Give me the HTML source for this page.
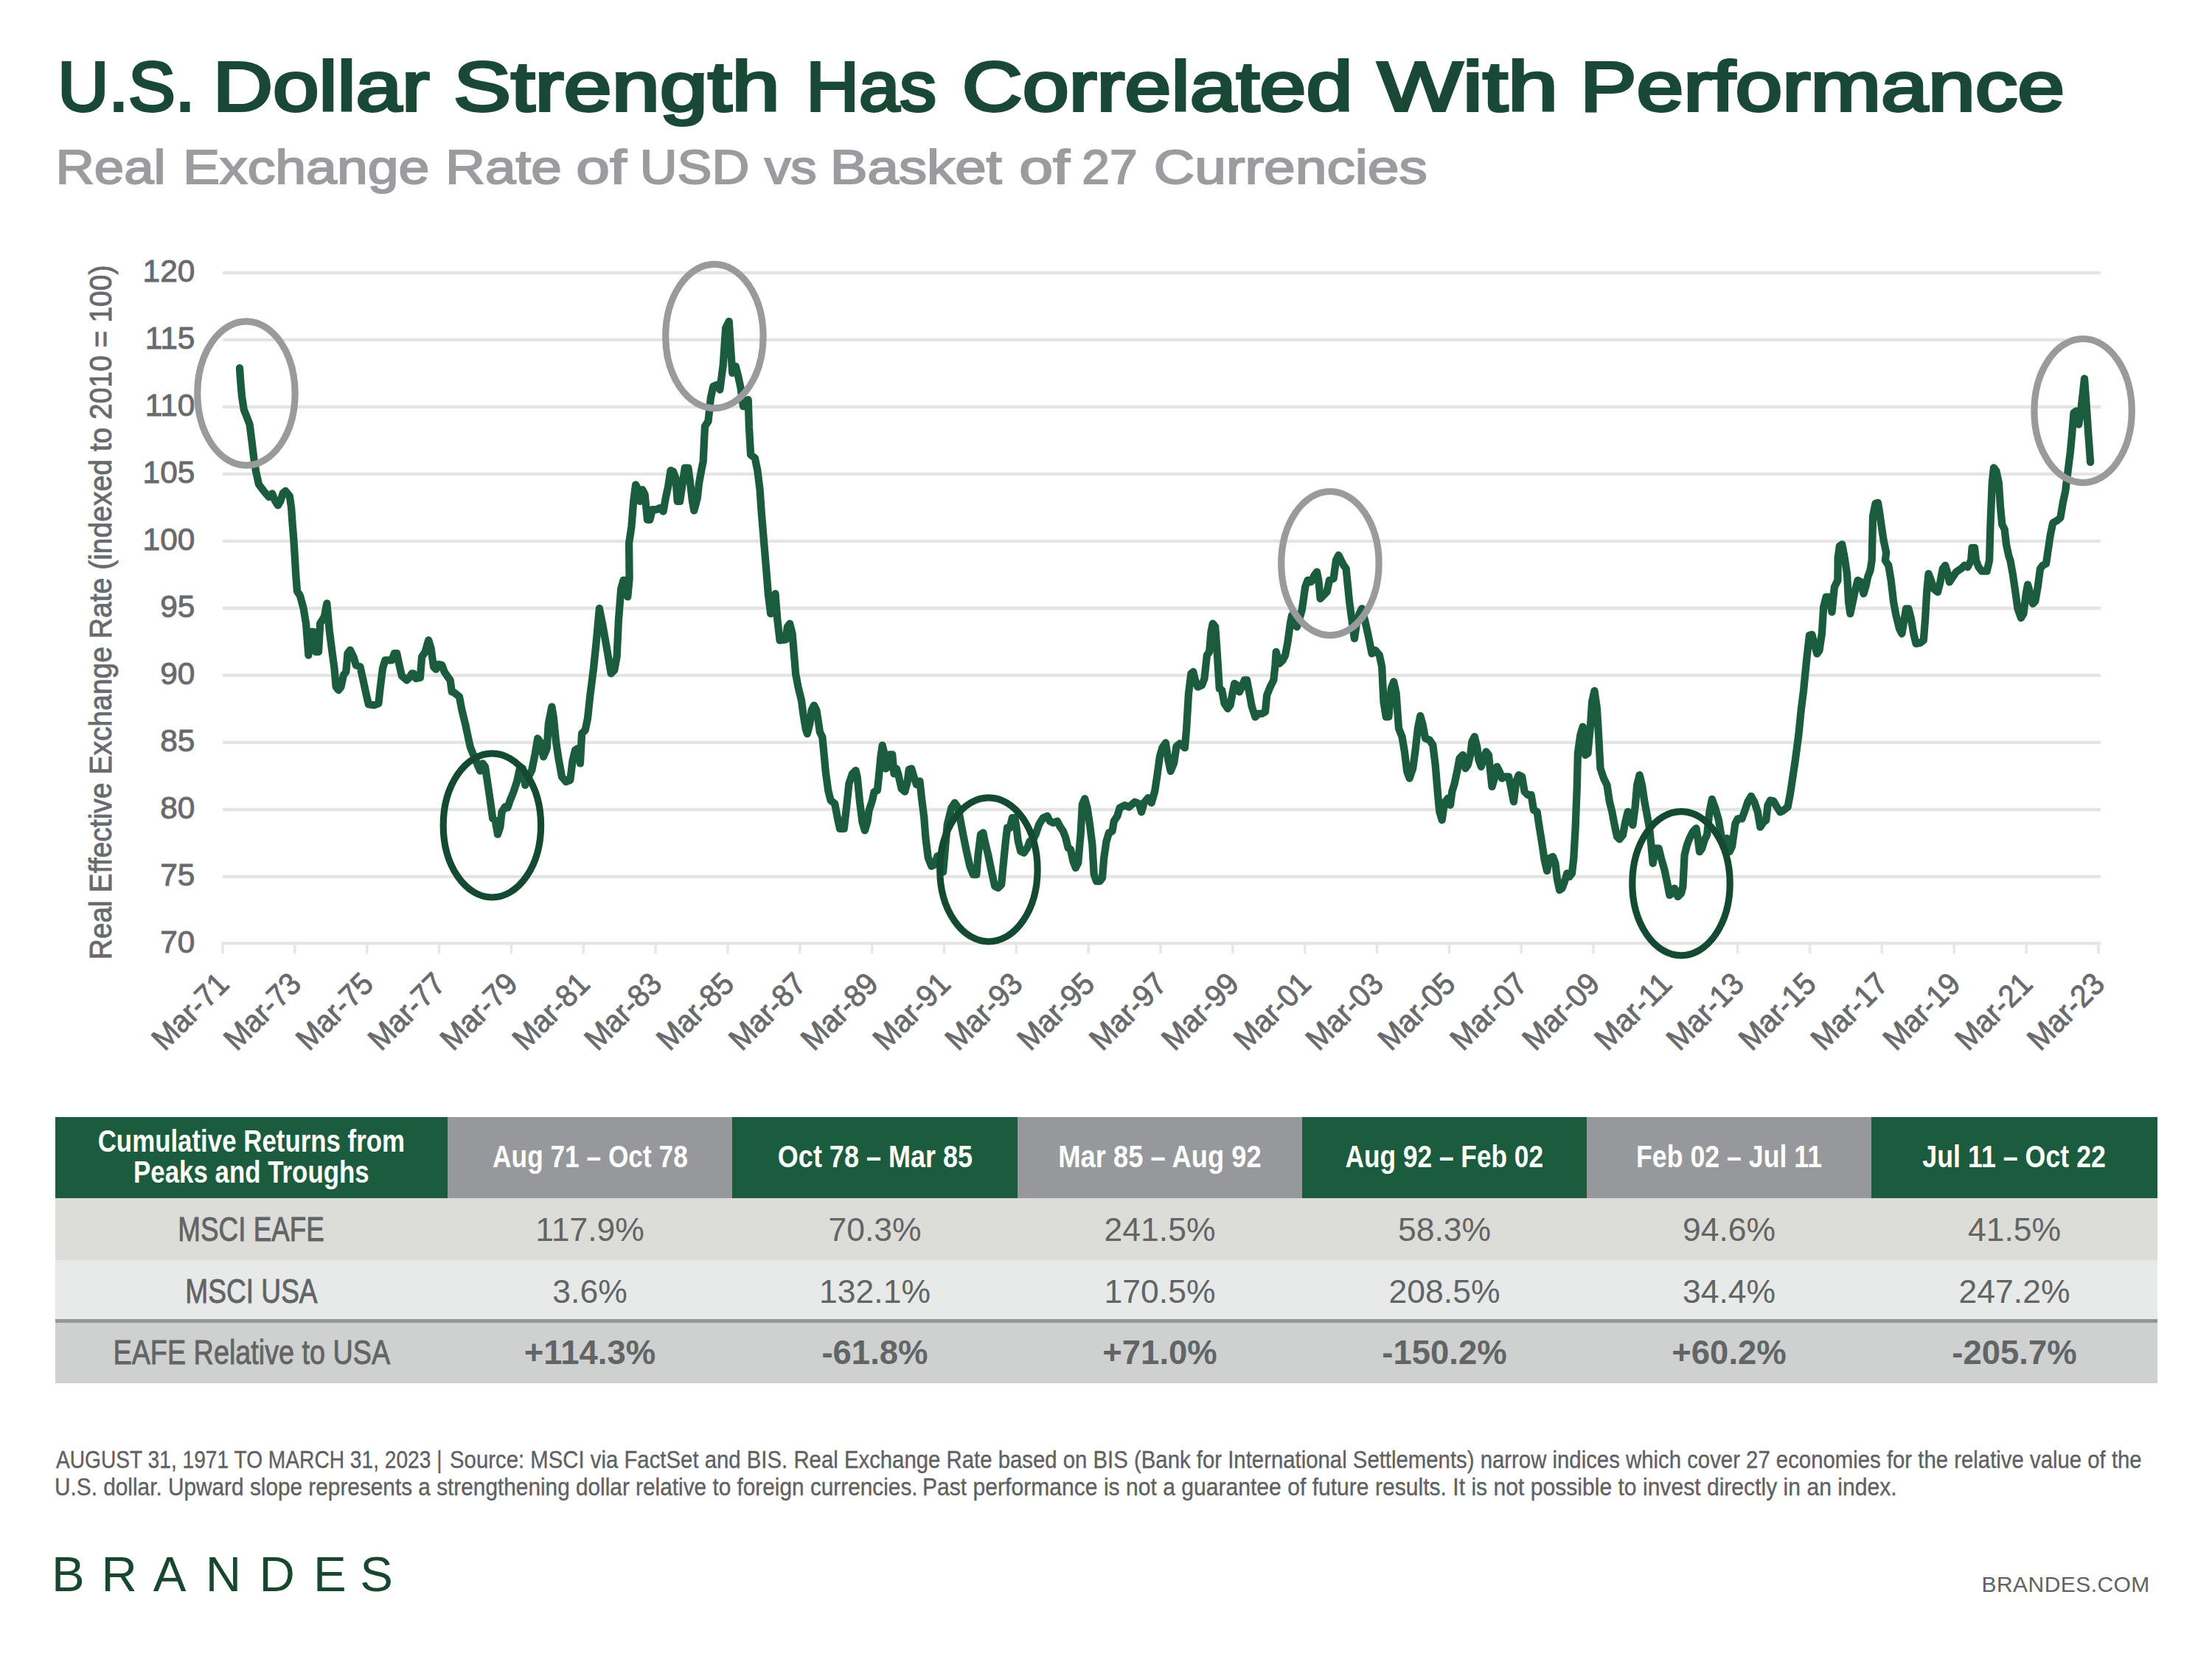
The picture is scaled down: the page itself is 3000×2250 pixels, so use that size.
<!DOCTYPE html>
<html lang="en"><head><meta charset="utf-8"><title>U.S. Dollar Strength Has Correlated With Performance</title>
<style>
html,body{margin:0;padding:0;background:#fff;}
body{width:3000px;height:2250px;position:relative;overflow:hidden;font-family:"Liberation Sans",sans-serif;}
.abs{position:absolute;white-space:nowrap;}
#head{left:0;top:0;}
#title text{font-family:"Liberation Sans",sans-serif;font-size:94.2px;fill:#194936;stroke:#194936;stroke-width:3.8px;}
#subtitle text{font-family:"Liberation Sans",sans-serif;font-size:65.4px;fill:#9b9c9f;stroke:#9b9c9f;stroke-width:2px;}
#chart{position:absolute;left:0;top:0;}
#chart text{font-family:"Liberation Sans",sans-serif;font-size:42.5px;fill:#696a6d;stroke:#696a6d;stroke-width:0.9px;}
table{position:absolute;left:75px;top:1515px;width:2851px;border-collapse:collapse;table-layout:fixed;}
th,td{padding:0;text-align:center;vertical-align:middle;overflow:hidden;}
th{height:107px;padding-bottom:3px;color:#fff;font-weight:bold;font-size:42.5px;}
th.g{background:#1c5c3e;} th.s{background:#96989b;}
td{font-size:44.5px;color:#636466;}
td .cn{font-size:45.5px;-webkit-text-stroke:0.9px #636466;}
tr.r1 td{height:82px;padding-top:2px;background:#dcddd9;}
tr.r2 td{height:74px;padding-top:6px;background:#e7eae9;}
tr.r3 td{height:82px;background:#ced1d0;border-top:5px solid #939798;}
tr.r3 td.b{font-weight:bold;font-size:45.5px;}
.cn{display:inline-block;transform:scaleX(.82);white-space:nowrap;}
.fn{left:75px;font-size:32.5px;line-height:37.1px;color:#5f6062;-webkit-text-stroke:0.35px #5f6062;transform-origin:0 0;}
#fn{top:1962px;left:76px;transform:scaleX(.866);}
#fn1b{top:1962px;left:609.5px;transform:scaleX(.9028);}
#fn2{top:1999.4px;left:74px;transform:scaleX(.9165);}
#fn2b{top:1999.4px;left:1251.3px;transform:scaleX(.926);}
#logo{left:0;top:2100px;}
#logo text{font-family:"Liberation Sans",sans-serif;font-size:67px;fill:#17472f;}
#site{left:2687.5px;top:2128.5px;font-size:30px;line-height:40px;color:#626262;letter-spacing:0.45px;}
</style></head><body>
<svg id="head" class="abs" width="3000" height="300" viewBox="0 0 3000 300"><g id="title"><text x="78.37" y="149.8" textLength="185.97" lengthAdjust="spacingAndGlyphs">U.S.</text><text x="288.76" y="149.8" textLength="293.75" lengthAdjust="spacingAndGlyphs">Dollar</text><text x="615.00" y="149.8" textLength="442.59" lengthAdjust="spacingAndGlyphs">Strength</text><text x="1093.23" y="149.8" textLength="176.80" lengthAdjust="spacingAndGlyphs">Has</text><text x="1304.79" y="149.8" textLength="529.72" lengthAdjust="spacingAndGlyphs">Correlated</text><text x="1868.24" y="149.8" textLength="244.83" lengthAdjust="spacingAndGlyphs">With</text><text x="2142.98" y="149.8" textLength="657.04" lengthAdjust="spacingAndGlyphs">Performance</text></g><g id="subtitle"><text x="75.46" y="249.2" textLength="149.20" lengthAdjust="spacingAndGlyphs">Real</text><text x="247.96" y="249.2" textLength="334.36" lengthAdjust="spacingAndGlyphs">Exchange</text><text x="604.03" y="249.2" textLength="157.62" lengthAdjust="spacingAndGlyphs">Rate</text><text x="781.23" y="249.2" textLength="68.52" lengthAdjust="spacingAndGlyphs">of</text><text x="867.75" y="249.2" textLength="148.38" lengthAdjust="spacingAndGlyphs">USD</text><text x="1036.98" y="249.2" textLength="70.68" lengthAdjust="spacingAndGlyphs">vs</text><text x="1125.70" y="249.2" textLength="233.12" lengthAdjust="spacingAndGlyphs">Basket</text><text x="1382.22" y="249.2" textLength="68.80" lengthAdjust="spacingAndGlyphs">of</text><text x="1467.37" y="249.2" textLength="75.06" lengthAdjust="spacingAndGlyphs">27</text><text x="1564.80" y="249.2" textLength="371.11" lengthAdjust="spacingAndGlyphs">Currencies</text></g></svg>
<svg id="chart" width="3000" height="1500" viewBox="0 0 3000 1500">
<g stroke="#e4e4e4" stroke-width="4.3" fill="none"><line x1="302" x2="2849" y1="1188.9" y2="1188.9"/><line x1="302" x2="2849" y1="1097.9" y2="1097.9"/><line x1="302" x2="2849" y1="1006.9" y2="1006.9"/><line x1="302" x2="2849" y1="915.9" y2="915.9"/><line x1="302" x2="2849" y1="824.9" y2="824.9"/><line x1="302" x2="2849" y1="733.9" y2="733.9"/><line x1="302" x2="2849" y1="642.9" y2="642.9"/><line x1="302" x2="2849" y1="551.9" y2="551.9"/><line x1="302" x2="2849" y1="460.9" y2="460.9"/><line x1="302" x2="2849" y1="369.9" y2="369.9"/><line x1="300.3" x2="2849" y1="1279.4" y2="1279.4"/></g>
<g stroke="#e7e7e7" stroke-width="3.6" fill="none"><line x1="302.1" x2="302.1" y1="1279" y2="1293.4"/><line x1="399.9" x2="399.9" y1="1279" y2="1293.4"/><line x1="497.8" x2="497.8" y1="1279" y2="1293.4"/><line x1="595.6" x2="595.6" y1="1279" y2="1293.4"/><line x1="693.5" x2="693.5" y1="1279" y2="1293.4"/><line x1="791.3" x2="791.3" y1="1279" y2="1293.4"/><line x1="889.1" x2="889.1" y1="1279" y2="1293.4"/><line x1="987.0" x2="987.0" y1="1279" y2="1293.4"/><line x1="1084.8" x2="1084.8" y1="1279" y2="1293.4"/><line x1="1182.7" x2="1182.7" y1="1279" y2="1293.4"/><line x1="1280.5" x2="1280.5" y1="1279" y2="1293.4"/><line x1="1378.3" x2="1378.3" y1="1279" y2="1293.4"/><line x1="1476.2" x2="1476.2" y1="1279" y2="1293.4"/><line x1="1574.0" x2="1574.0" y1="1279" y2="1293.4"/><line x1="1671.9" x2="1671.9" y1="1279" y2="1293.4"/><line x1="1769.7" x2="1769.7" y1="1279" y2="1293.4"/><line x1="1867.5" x2="1867.5" y1="1279" y2="1293.4"/><line x1="1965.4" x2="1965.4" y1="1279" y2="1293.4"/><line x1="2063.2" x2="2063.2" y1="1279" y2="1293.4"/><line x1="2161.1" x2="2161.1" y1="1279" y2="1293.4"/><line x1="2258.9" x2="2258.9" y1="1279" y2="1293.4"/><line x1="2356.7" x2="2356.7" y1="1279" y2="1293.4"/><line x1="2454.6" x2="2454.6" y1="1279" y2="1293.4"/><line x1="2552.4" x2="2552.4" y1="1279" y2="1293.4"/><line x1="2650.3" x2="2650.3" y1="1279" y2="1293.4"/><line x1="2748.1" x2="2748.1" y1="1279" y2="1293.4"/><line x1="2845.9" x2="2845.9" y1="1279" y2="1293.4"/></g>
<g><text x="264.5" y="1292.3" text-anchor="end">70</text><text x="264.5" y="1201.3" text-anchor="end">75</text><text x="264.5" y="1110.3" text-anchor="end">80</text><text x="264.5" y="1019.3" text-anchor="end">85</text><text x="264.5" y="928.3" text-anchor="end">90</text><text x="264.5" y="837.3" text-anchor="end">95</text><text x="264.5" y="746.3" text-anchor="end">100</text><text x="264.5" y="655.3" text-anchor="end">105</text><text x="264.5" y="564.3" text-anchor="end">110</text><text x="264.5" y="473.3" text-anchor="end">115</text><text x="264.5" y="382.3" text-anchor="end">120</text></g>
<g><text transform="translate(313.0,1337) rotate(-45)" text-anchor="end" textLength="127" lengthAdjust="spacingAndGlyphs">Mar-71</text><text transform="translate(410.8,1337) rotate(-45)" text-anchor="end" textLength="127" lengthAdjust="spacingAndGlyphs">Mar-73</text><text transform="translate(508.7,1337) rotate(-45)" text-anchor="end" textLength="127" lengthAdjust="spacingAndGlyphs">Mar-75</text><text transform="translate(606.5,1337) rotate(-45)" text-anchor="end" textLength="127" lengthAdjust="spacingAndGlyphs">Mar-77</text><text transform="translate(704.4,1337) rotate(-45)" text-anchor="end" textLength="127" lengthAdjust="spacingAndGlyphs">Mar-79</text><text transform="translate(802.2,1337) rotate(-45)" text-anchor="end" textLength="127" lengthAdjust="spacingAndGlyphs">Mar-81</text><text transform="translate(900.0,1337) rotate(-45)" text-anchor="end" textLength="127" lengthAdjust="spacingAndGlyphs">Mar-83</text><text transform="translate(997.9,1337) rotate(-45)" text-anchor="end" textLength="127" lengthAdjust="spacingAndGlyphs">Mar-85</text><text transform="translate(1095.7,1337) rotate(-45)" text-anchor="end" textLength="127" lengthAdjust="spacingAndGlyphs">Mar-87</text><text transform="translate(1193.6,1337) rotate(-45)" text-anchor="end" textLength="127" lengthAdjust="spacingAndGlyphs">Mar-89</text><text transform="translate(1291.4,1337) rotate(-45)" text-anchor="end" textLength="127" lengthAdjust="spacingAndGlyphs">Mar-91</text><text transform="translate(1389.2,1337) rotate(-45)" text-anchor="end" textLength="127" lengthAdjust="spacingAndGlyphs">Mar-93</text><text transform="translate(1487.1,1337) rotate(-45)" text-anchor="end" textLength="127" lengthAdjust="spacingAndGlyphs">Mar-95</text><text transform="translate(1584.9,1337) rotate(-45)" text-anchor="end" textLength="127" lengthAdjust="spacingAndGlyphs">Mar-97</text><text transform="translate(1682.8,1337) rotate(-45)" text-anchor="end" textLength="127" lengthAdjust="spacingAndGlyphs">Mar-99</text><text transform="translate(1780.6,1337) rotate(-45)" text-anchor="end" textLength="127" lengthAdjust="spacingAndGlyphs">Mar-01</text><text transform="translate(1878.4,1337) rotate(-45)" text-anchor="end" textLength="127" lengthAdjust="spacingAndGlyphs">Mar-03</text><text transform="translate(1976.3,1337) rotate(-45)" text-anchor="end" textLength="127" lengthAdjust="spacingAndGlyphs">Mar-05</text><text transform="translate(2074.1,1337) rotate(-45)" text-anchor="end" textLength="127" lengthAdjust="spacingAndGlyphs">Mar-07</text><text transform="translate(2172.0,1337) rotate(-45)" text-anchor="end" textLength="127" lengthAdjust="spacingAndGlyphs">Mar-09</text><text transform="translate(2269.8,1337) rotate(-45)" text-anchor="end" textLength="127" lengthAdjust="spacingAndGlyphs">Mar-11</text><text transform="translate(2367.6,1337) rotate(-45)" text-anchor="end" textLength="127" lengthAdjust="spacingAndGlyphs">Mar-13</text><text transform="translate(2465.5,1337) rotate(-45)" text-anchor="end" textLength="127" lengthAdjust="spacingAndGlyphs">Mar-15</text><text transform="translate(2563.3,1337) rotate(-45)" text-anchor="end" textLength="127" lengthAdjust="spacingAndGlyphs">Mar-17</text><text transform="translate(2661.2,1337) rotate(-45)" text-anchor="end" textLength="127" lengthAdjust="spacingAndGlyphs">Mar-19</text><text transform="translate(2759.0,1337) rotate(-45)" text-anchor="end" textLength="127" lengthAdjust="spacingAndGlyphs">Mar-21</text><text transform="translate(2856.8,1337) rotate(-45)" text-anchor="end" textLength="127" lengthAdjust="spacingAndGlyphs">Mar-23</text></g>
<text transform="translate(150.8,830.5) rotate(-90)" text-anchor="middle" textLength="942" lengthAdjust="spacingAndGlyphs">Real Effective Exchange Rate (indexed to 2010 = 100)</text>
<path d="M325.0,499.2 L326.2,516.9 L328.0,537.2 L330.7,555.3 L335.2,566.6 L338.6,575.6 L341.5,598.2 L344.2,620.8 L347.0,638.9 L351.0,657.0 L357.8,666.0 L364.6,674.0 L369.1,669.4 L373.2,679.6 L377.0,685.3 L380.4,679.6 L383.8,668.8 L387.2,666.0 L392.8,672.8 L395.1,688.6 L396.7,711.2 L398.5,733.9 L399.9,756.5 L401.2,779.1 L403.0,801.7 L407.1,808.3 L411.6,825.2 L415.0,845.6 L418.4,888.5 L421.8,856.9 L425.2,856.9 L428.6,884.0 L432.0,884.0 L434.2,845.6 L439.9,836.5 L443.3,818.4 L446.7,854.6 L450.1,881.7 L453.5,906.6 L455.7,931.4 L459.1,936.0 L462.5,931.4 L465.9,915.6 L469.3,911.1 L471.5,886.2 L474.9,881.7 L479.5,890.8 L482.8,902.1 L488.5,904.3 L493.0,924.7 L496.4,940.5 L499.8,955.2 L507.7,956.3 L513.4,954.1 L515.6,933.7 L519.0,906.6 L522.4,895.3 L526.9,895.3 L531.4,895.3 L534.8,886.2 L538.2,886.2 L541.6,902.1 L545.0,916.8 L551.8,922.4 L555.2,919.0 L558.6,913.4 L560.8,913.4 L564.2,920.1 L569.9,919.0 L572.1,890.8 L576.7,884.0 L581.2,868.2 L584.6,879.5 L588.0,904.3 L591.3,907.7 L594.7,900.9 L599.3,902.1 L602.6,911.1 L607.2,917.9 L610.6,922.4 L612.8,938.2 L616.2,939.4 L623.0,945.0 L626.4,963.1 L630.9,981.2 L634.3,997.0 L637.7,1012.8 L642.2,1024.1 L647.9,1037.7 L651.2,1045.6 L654.6,1035.4 L658.0,1039.9 L661.4,1062.5 L664.8,1085.2 L668.2,1110.0 L671.6,1112.3 L675.0,1131.5 L678.4,1121.3 L680.6,1101.0 L685.2,1094.2 L688.5,1095.3 L691.9,1085.2 L696.5,1073.9 L701.0,1060.3 L705.5,1039.9 L708.9,1042.2 L712.3,1064.8 L716.8,1053.5 L721.3,1044.5 L725.8,1021.9 L729.2,1001.5 L732.6,1006.0 L737.1,1026.4 L741.7,1015.1 L743.9,981.2 L748.4,958.6 L750.7,972.1 L754.1,1006.0 L757.5,1028.6 L762.0,1053.5 L767.7,1060.3 L773.3,1058.0 L776.7,1030.9 L780.1,1017.3 L783.5,1015.1 L786.9,1035.4 L789.1,994.7 L793.7,990.2 L797.0,974.4 L800.4,942.7 L805.0,906.6 L808.3,874.9 L812.9,825.2 L817.4,847.8 L823.0,879.5 L828.7,913.4 L833.2,908.8 L836.6,890.8 L838.9,841.0 L842.3,798.1 L845.6,786.8 L851.3,809.4 L853.6,784.5 L853.1,736.5 L856.5,713.9 L859.2,679.9 L862.2,657.3 L865.6,664.1 L867.8,679.9 L871.2,664.1 L874.6,670.9 L878.0,704.8 L881.4,704.8 L884.8,691.2 L890.4,691.2 L894.9,689.0 L899.5,693.5 L902.8,675.4 L906.2,659.6 L909.6,638.1 L913.0,639.3 L916.4,648.3 L918.7,679.9 L922.1,679.9 L925.5,657.3 L928.8,634.7 L933.4,634.7 L935.6,650.6 L939.0,679.9 L941.3,692.4 L945.8,675.4 L948.1,655.1 L951.4,637.0 L953.7,625.7 L956.0,578.2 L960.5,571.4 L963.9,539.8 L967.3,524.0 L972.9,521.7 L976.3,528.5 L980.8,494.6 L984.2,444.9 L988.7,435.8 L991.0,472.0 L993.3,505.9 L997.8,496.9 L1001.2,510.4 L1004.6,526.2 L1008.0,551.1 L1011.3,546.6 L1014.7,542.1 L1015.9,578.2 L1018.1,616.7 L1023.8,621.2 L1027.2,637.0 L1030.6,664.1 L1032.8,695.8 L1036.2,736.5 L1039.6,777.1 L1041.8,805.2 L1045.2,832.3 L1048.6,809.7 L1051.5,805.2 L1054.2,839.1 L1057.6,868.5 L1065.6,867.4 L1067.8,850.4 L1071.2,845.9 L1074.6,859.5 L1076.9,886.6 L1079.1,913.7 L1082.5,931.8 L1087.0,949.9 L1089.3,968.0 L1092.7,988.3 L1094.9,995.1 L1098.3,981.5 L1100.6,963.4 L1104.0,956.7 L1107.4,963.4 L1109.6,977.0 L1111.9,992.8 L1115.3,999.6 L1117.5,1022.2 L1119.8,1047.1 L1123.2,1071.9 L1126.6,1085.5 L1132.2,1090.0 L1135.6,1108.1 L1139.0,1123.9 L1144.7,1123.9 L1148.1,1094.5 L1151.4,1062.9 L1156.0,1049.3 L1160.5,1044.8 L1162.7,1053.9 L1166.1,1087.8 L1169.5,1114.9 L1172.9,1126.2 L1176.3,1114.9 L1178.6,1099.1 L1183.1,1085.5 L1185.4,1074.2 L1189.9,1071.9 L1192.1,1051.6 L1194.4,1026.7 L1196.7,1010.9 L1198.9,1019.9 L1201.2,1042.5 L1204.6,1040.3 L1206.8,1023.3 L1210.2,1023.3 L1212.5,1049.3 L1215.9,1042.5 L1218.1,1049.3 L1222.6,1069.7 L1227.2,1073.7 L1230.6,1060.6 L1232.8,1043.7 L1236.2,1042.5 L1239.6,1053.9 L1243.0,1064.0 L1247.5,1059.5 L1249.8,1081.0 L1253.2,1108.1 L1255.4,1136.3 L1258.8,1163.4 L1263.3,1174.7 L1267.8,1172.5 L1271.2,1161.2 L1275.0,1164.6 L1279.1,1182.6 L1284.8,1118.2 L1290.4,1095.6 L1294.9,1088.8 L1299.5,1095.6 L1302.8,1113.7 L1306.2,1131.8 L1310.8,1154.4 L1315.3,1174.7 L1319.8,1186.0 L1324.3,1186.0 L1326.6,1158.9 L1330.0,1131.8 L1333.4,1129.5 L1335.6,1140.8 L1340.1,1158.9 L1344.7,1181.5 L1349.2,1201.9 L1353.7,1204.1 L1358.2,1199.6 L1360.5,1174.7 L1363.9,1140.8 L1366.1,1122.7 L1369.5,1122.7 L1372.9,1109.2 L1376.3,1109.2 L1378.6,1122.7 L1380.8,1140.8 L1384.2,1154.4 L1388.7,1156.7 L1393.3,1149.9 L1396.7,1140.8 L1401.2,1138.6 L1404.6,1131.8 L1409.1,1118.2 L1414.7,1109.2 L1420.4,1106.9 L1423.8,1113.7 L1428.3,1116.0 L1434.0,1113.7 L1437.3,1120.5 L1441.9,1127.3 L1445.3,1136.3 L1448.6,1149.9 L1452.0,1152.1 L1455.4,1168.0 L1458.8,1177.0 L1462.2,1170.2 L1465.6,1131.8 L1467.9,1091.1 L1471.2,1083.2 L1474.6,1095.6 L1478.0,1118.2 L1481.4,1145.4 L1483.7,1186.0 L1487.1,1195.1 L1491.6,1195.1 L1495.0,1190.6 L1497.2,1163.4 L1500.6,1140.8 L1504.0,1129.5 L1508.5,1127.3 L1510.8,1113.7 L1515.3,1106.9 L1518.7,1095.6 L1525.5,1092.2 L1531.1,1094.5 L1539.1,1087.7 L1544.7,1090.0 L1548.1,1101.3 L1551.5,1088.8 L1557.1,1082.1 L1561.7,1088.8 L1566.2,1073.0 L1569.6,1050.4 L1573.0,1025.6 L1576.4,1014.2 L1580.9,1007.5 L1584.3,1030.1 L1587.7,1045.9 L1592.2,1034.6 L1595.6,1012.0 L1600.1,1008.6 L1604.6,1012.0 L1606.9,1014.2 L1609.1,989.4 L1612.0,940.6 L1615.4,913.5 L1618.3,911.2 L1621.0,922.5 L1624.4,931.6 L1630.1,929.3 L1633.5,920.3 L1636.9,888.6 L1640.2,884.1 L1642.5,857.0 L1644.8,845.7 L1648.2,850.2 L1650.4,879.6 L1653.8,933.9 L1657.2,936.1 L1660.6,954.2 L1665.1,961.0 L1668.5,956.5 L1671.9,938.4 L1674.2,927.1 L1677.5,929.3 L1680.9,938.4 L1684.3,931.6 L1687.7,922.5 L1691.1,922.5 L1694.5,940.6 L1697.9,958.7 L1702.4,972.3 L1706.9,967.8 L1711.4,967.8 L1716.0,965.5 L1718.2,942.9 L1722.7,931.6 L1727.3,922.5 L1729.5,902.2 L1730.7,884.1 L1735.2,899.9 L1739.7,895.4 L1743.1,888.6 L1746.5,870.6 L1749.9,845.7 L1752.1,834.4 L1755.5,838.9 L1758.9,850.2 L1762.3,838.9 L1765.7,827.6 L1768.0,811.8 L1770.2,796.0 L1773.6,786.9 L1778.1,789.2 L1782.6,780.1 L1786.0,775.6 L1788.3,786.9 L1790.6,811.8 L1795.1,807.3 L1799.6,802.7 L1803.0,786.9 L1808.6,784.7 L1812.0,759.8 L1815.4,753.0 L1818.8,759.8 L1822.2,766.6 L1825.6,771.1 L1827.9,793.7 L1830.1,816.3 L1833.5,841.2 L1836.9,866.0 L1840.3,843.4 L1843.7,832.1 L1847.1,825.4 L1851.6,843.4 L1856.1,863.8 L1860.6,886.4 L1865.2,881.9 L1870.8,888.6 L1874.2,904.5 L1876.5,951.9 L1879.8,972.3 L1883.4,972.0 L1886.8,933.6 L1890.2,924.5 L1893.6,940.3 L1897.0,987.8 L1901.5,999.1 L1904.9,1019.5 L1908.3,1046.6 L1911.6,1055.6 L1916.2,1042.1 L1919.6,1017.2 L1922.9,987.8 L1926.3,970.9 L1929.7,983.3 L1933.1,1001.4 L1938.8,1003.6 L1943.3,1010.4 L1946.7,1037.5 L1950.1,1078.2 L1952.3,1100.8 L1955.7,1112.1 L1958.0,1096.3 L1960.2,1087.3 L1963.6,1082.7 L1967.0,1091.8 L1969.3,1073.7 L1972.7,1062.4 L1976.1,1046.6 L1979.5,1028.5 L1984.0,1024.0 L1987.4,1042.1 L1990.8,1037.5 L1994.2,1024.0 L1996.4,1005.9 L1999.8,999.1 L2003.2,1012.7 L2005.5,1030.8 L2008.8,1039.8 L2012.2,1028.5 L2015.6,1019.5 L2019.0,1024.0 L2021.3,1046.6 L2023.5,1066.9 L2026.9,1055.6 L2030.3,1039.8 L2033.7,1046.6 L2037.1,1055.6 L2040.5,1053.4 L2046.1,1053.4 L2049.5,1069.2 L2052.9,1087.3 L2056.3,1060.1 L2059.7,1051.1 L2064.2,1053.4 L2067.6,1073.7 L2072.1,1078.2 L2076.7,1078.2 L2080.0,1098.6 L2084.6,1100.8 L2088.0,1123.4 L2091.3,1143.8 L2094.7,1166.4 L2098.1,1181.1 L2101.5,1164.1 L2106.0,1161.9 L2109.4,1170.9 L2111.7,1191.2 L2115.1,1207.1 L2118.5,1204.8 L2121.9,1195.8 L2125.3,1184.5 L2128.6,1189.0 L2132.0,1184.5 L2134.3,1164.1 L2136.6,1123.4 L2138.8,1066.9 L2139.9,1021.7 L2143.3,996.9 L2146.7,985.6 L2150.1,1024.0 L2153.5,1021.7 L2156.9,985.6 L2159.2,951.6 L2162.5,937.0 L2165.9,960.7 L2168.2,999.1 L2170.5,1042.1 L2175.0,1055.6 L2179.5,1064.7 L2182.9,1087.3 L2186.3,1100.8 L2189.7,1118.9 L2193.1,1134.7 L2196.5,1138.1 L2201.0,1132.5 L2204.4,1114.4 L2207.8,1100.8 L2211.1,1112.1 L2214.5,1118.9 L2217.9,1091.8 L2220.2,1064.7 L2223.6,1051.1 L2227.0,1064.7 L2230.4,1087.3 L2233.8,1105.4 L2237.1,1123.4 L2239.4,1146.0 L2241.7,1170.9 L2245.1,1150.6 L2249.6,1150.6 L2253.0,1164.1 L2257.5,1179.9 L2260.9,1195.8 L2264.3,1213.9 L2267.7,1211.6 L2271.0,1204.8 L2275.6,1216.1 L2280.1,1211.6 L2282.4,1202.5 L2284.6,1159.6 L2288.0,1146.0 L2291.4,1137.0 L2295.9,1128.0 L2300.4,1123.4 L2302.7,1137.0 L2305.0,1155.1 L2308.3,1150.6 L2311.7,1139.3 L2315.1,1132.5 L2318.5,1100.8 L2321.9,1083.9 L2326.4,1096.3 L2330.9,1112.1 L2334.3,1132.5 L2337.7,1148.3 L2342.3,1137.0 L2345.6,1155.1 L2349.0,1148.3 L2353.4,1117.1 L2356.8,1110.4 L2362.4,1110.4 L2365.8,1101.3 L2370.3,1087.8 L2374.9,1079.8 L2379.4,1087.8 L2383.9,1101.3 L2387.3,1121.7 L2391.8,1114.9 L2395.2,1112.6 L2397.5,1092.3 L2400.9,1085.5 L2405.4,1086.6 L2409.9,1094.5 L2414.4,1101.3 L2418.9,1099.1 L2424.6,1094.5 L2428.0,1076.5 L2431.4,1053.9 L2434.8,1031.2 L2439.3,997.3 L2442.7,963.4 L2446.1,936.3 L2448.3,913.7 L2450.6,891.1 L2454.0,861.7 L2457.4,860.6 L2460.8,873.0 L2464.2,886.6 L2467.5,882.1 L2470.9,859.5 L2473.2,823.3 L2476.6,809.7 L2481.1,809.7 L2484.5,830.1 L2487.9,796.2 L2492.4,787.1 L2492.7,756.5 L2494.9,740.6 L2498.3,738.4 L2501.7,756.5 L2505.1,779.1 L2507.1,816.5 L2509.4,832.3 L2512.7,816.5 L2516.1,800.7 L2519.5,787.1 L2524.1,789.4 L2527.4,805.2 L2530.8,793.9 L2533.1,782.6 L2536.5,773.6 L2538.7,760.0 L2540.1,699.9 L2543.5,683.0 L2546.9,681.9 L2549.2,695.4 L2551.4,711.2 L2554.8,733.9 L2558.2,749.7 L2556.8,760.0 L2561.3,766.8 L2564.7,787.1 L2568.1,816.5 L2571.5,834.6 L2576.0,852.7 L2579.4,859.5 L2582.8,839.1 L2585.1,825.6 L2588.5,825.6 L2591.9,839.1 L2595.3,859.5 L2598.6,873.0 L2604.3,871.9 L2608.8,868.5 L2611.1,839.1 L2613.3,800.7 L2615.6,778.1 L2619.0,787.1 L2622.4,798.4 L2628.0,802.9 L2631.4,789.4 L2634.8,771.3 L2638.2,766.8 L2641.6,778.1 L2643.9,789.4 L2648.4,782.6 L2652.9,775.8 L2659.7,771.3 L2664.2,766.8 L2668.7,769.0 L2673.2,760.0 L2674.6,742.9 L2678.0,742.9 L2680.0,760.0 L2683.4,769.0 L2687.9,774.7 L2694.7,774.7 L2698.1,760.0 L2699.5,711.2 L2701.8,654.7 L2704.0,634.4 L2707.4,638.9 L2710.8,654.7 L2713.1,688.6 L2715.3,711.2 L2718.7,718.0 L2721.0,738.4 L2724.4,754.2 L2726.4,760.0 L2729.7,778.1 L2733.1,800.7 L2736.5,825.6 L2741.0,838.0 L2744.4,832.3 L2747.8,805.2 L2750.1,792.8 L2753.5,805.2 L2756.9,818.8 L2760.3,815.4 L2763.7,796.2 L2767.0,771.3 L2770.4,766.8 L2775.0,764.5 L2780.9,724.8 L2784.3,709.0 L2788.8,706.7 L2794.4,702.2 L2797.8,681.9 L2801.2,666.0 L2804.6,638.9 L2808.0,611.8 L2810.3,586.9 L2812.5,559.8 L2815.9,557.5 L2819.3,575.6 L2822.7,553.0 L2827.0,513.5 L2829.7,550.1 L2832.4,590.1 L2835.1,626.9" fill="none" stroke="#1c5c3e" stroke-width="10.3" stroke-linejoin="round" stroke-linecap="round"/>
<g fill="none" stroke-width="9.2"><ellipse cx="333.95" cy="533.45" rx="66.2" ry="97.6" stroke="#999a9c"/><ellipse cx="968.9" cy="456" rx="66.2" ry="97.6" stroke="#999a9c"/><ellipse cx="1803.9" cy="764.1" rx="66.2" ry="97.6" stroke="#999a9c"/><ellipse cx="2825.1" cy="557.1" rx="66.2" ry="97.6" stroke="#999a9c"/><ellipse cx="667.4" cy="1119.4" rx="66.2" ry="97.6" stroke="#144a32"/><ellipse cx="1340.9" cy="1179.4" rx="66.2" ry="97.6" stroke="#144a32"/><ellipse cx="2280" cy="1198.2" rx="66.2" ry="97.6" stroke="#144a32"/></g>
</svg>
<table>
<colgroup><col style="width:532px"><col style="width:386px"><col style="width:387px"><col style="width:386px"><col style="width:386px"><col style="width:386px"><col style="width:388px"></colgroup>
<tr><th class="g" style="padding:1px 0 0 0;height:109px"><span class="cn" style="line-height:42px;transform:scaleX(.82)">Cumulative Returns from<br>Peaks and Troughs</span></th><th class="s"><span class="cn" style="transform:scaleX(.83)">Aug 71 – Oct 78</span></th><th class="g"><span class="cn" style="transform:scaleX(.847)">Oct 78 – Mar 85</span></th><th class="s"><span class="cn" style="transform:scaleX(.855)">Mar 85 – Aug 92</span></th><th class="g"><span class="cn" style="transform:scaleX(.83)">Aug 92 – Feb 02</span></th><th class="s"><span class="cn" style="transform:scaleX(.84)">Feb 02 – Jul 11</span></th><th class="g"><span class="cn" style="transform:scaleX(.842)">Jul 11 – Oct 22</span></th></tr>
<tr class="r1"><td><span class="cn" style="transform:scaleX(.81)">MSCI EAFE</span></td><td>117.9%</td><td>70.3%</td><td>241.5%</td><td>58.3%</td><td>94.6%</td><td>41.5%</td></tr>
<tr class="r2"><td><span class="cn" style="transform:scaleX(.815)">MSCI USA</span></td><td>3.6%</td><td>132.1%</td><td>170.5%</td><td>208.5%</td><td>34.4%</td><td>247.2%</td></tr>
<tr class="r3"><td><span class="cn" style="transform:scaleX(.83)">EAFE Relative to USA</span></td><td class="b">+114.3%</td><td class="b">-61.8%</td><td class="b">+71.0%</td><td class="b">-150.2%</td><td class="b">+60.2%</td><td class="b">-205.7%</td></tr>
</table>
<div id="fn" class="abs fn">AUGUST 31, 1971 TO MARCH 31, 2023 |</div>
<div id="fn1b" class="abs fn">Source: MSCI via FactSet and BIS. Real Exchange Rate based on BIS (Bank for International Settlements) narrow indices which cover 27 economies for the relative value of the</div>
<div id="fn2" class="abs fn">U.S. dollar. Upward slope represents a strengthening dollar relative to foreign currencies.</div>
<div id="fn2b" class="abs fn">Past performance is not a guarantee of future results. It is not possible to invest directly in an index.</div>
<svg id="logo" class="abs" width="600" height="100" viewBox="0 0 600 100"><text x="70 137.4 207.8 278.7 351.6 424.9 488.2" y="57.5">BRANDES</text></svg>
<div id="site" class="abs">BRANDES.COM</div>
</body></html>
